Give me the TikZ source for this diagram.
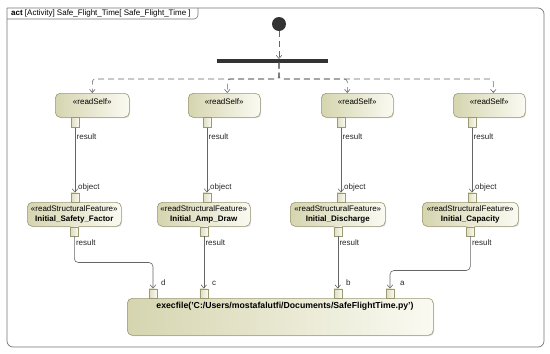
\documentclass[tikz,border=0pt]{standalone}
\usepackage{fontspec}
\setmainfont{Liberation Sans}
\usetikzlibrary{arrows.meta,shadows,calc}
\definecolor{boxdark}{HTML}{D6D5B0}
\definecolor{boxlight}{HTML}{FAFAF2}
\definecolor{boxborder}{HTML}{9A9974}
\definecolor{flowcol}{HTML}{656565}
\definecolor{framecol}{HTML}{757575}
\definecolor{solid}{HTML}{333333}
\begin{document}
\begin{tikzpicture}[x=1pt,y=-1pt, font=\fontsize{8}{9}\selectfont,
  actbox/.style={draw=boxborder, line width=0.6pt, rounded corners=5pt,
    left color=boxdark, right color=boxlight, inner sep=0pt, anchor=north west,
    drop shadow={shadow xshift=0.9pt, shadow yshift=-0.9pt, opacity=0.3}},
  pinbox/.style={draw=boxborder, line width=0.5pt, left color=boxdark!80!white,
    right color=boxlight, inner sep=0pt, minimum width=8, minimum height=9},
  oflow/.style={draw=flowcol, line width=0.6pt, -{Straight Barb[length=3.2pt,width=5.5pt]}},
  cflow/.style={oflow, dash pattern=on 6pt off 4pt},
  txt/.style={inner sep=0pt, text=black},
  bold/.style={txt, font=\fontsize{8}{9}\selectfont\bfseries},
  lbl/.style={inner sep=0pt, anchor=west, text=black!85},
]
\useasboundingbox (0,0) rectangle (550,354);
% frame
\draw[framecol, line width=0.7pt, rounded corners=6pt] (7,8) -- (544,8) -- (544,347) -- (7,347) -- (7,8);
\draw[framecol, line width=0.6pt, rounded corners=4pt] (7,19) -- (198,19) -- (198,8);
\node[txt, anchor=west] (title) at (11,13.8) {\textbf{act} [Activity] Safe\_Flight\_Time[ Safe\_Flight\_Time ]};

% initial and fork
\node[circle, fill=solid, minimum size=14, inner sep=0pt] (init) at (279,24) {};
\node[fill=solid, minimum width=111, minimum height=3.5, inner sep=0pt, anchor=north west] (fork) at (217,59) {};
\coordinate (fj) at (279,62.5);
\draw[cflow] (init.south) -- (init.south |- fork.north);

% readSelf boxes
\node[actbox, minimum width=74, minimum height=24] (rs1) at (55,93) {};
\node[actbox, minimum width=72, minimum height=24] (rs2) at (188,93) {};
\node[actbox, minimum width=72, minimum height=24] (rs3) at (321,93) {};
\node[actbox, minimum width=72, minimum height=24] (rs4) at (453,93) {};
\node[txt] (rs1t) at (rs1.north |- 0,101.5) {«readSelf»};
\node[txt] (rs2t) at (rs2.north |- 0,101.5) {«readSelf»};
\node[txt] (rs3t) at (rs3.north |- 0,101.5) {«readSelf»};
\node[txt] (rs4t) at (rs4.north |- 0,101.5) {«readSelf»};

% control flows from fork
\draw[cflow, rounded corners=3pt] (fj) -- ++(0,16.5) -| (rs1.north);
\draw[cflow, rounded corners=3pt] (fj) -- ++(0,16.5) -| ([xshift=3pt]rs2.north);
\draw[cflow, rounded corners=3pt] (fj) -- ++(0,16.5) -| ([xshift=-10pt]rs3.north);
\draw[cflow, rounded corners=3pt] (fj) -- ++(0,16.5) -| ([xshift=4pt]rs4.north);

% readSelf result pins
\node[pinbox, anchor=north, minimum height=10] (r1) at (75,117) {};
\node[pinbox, anchor=north, minimum height=10] (r2) at (207,117) {};
\node[pinbox, anchor=north, minimum height=10] (r3) at (341,117) {};
\node[pinbox, anchor=north, minimum height=10] (r4) at (472,117) {};

% readStructuralFeature boxes
\node[actbox, minimum width=94, minimum height=24] (sf1) at (27,202) {};
\node[actbox, minimum width=93, minimum height=24] (sf2) at (157,202) {};
\node[actbox, minimum width=95, minimum height=24] (sf3) at (290,202) {};
\node[actbox, minimum width=96, minimum height=24] (sf4) at (422,202) {};
\node[txt] (sf1s) at (sf1.north |- 0,209) {«readStructuralFeature»};
\node[txt] (sf2s) at (sf2.north |- 0,209) {«readStructuralFeature»};
\node[txt] (sf3s) at (sf3.north |- 0,209) {«readStructuralFeature»};
\node[txt] (sf4s) at (sf4.north |- 0,209) {«readStructuralFeature»};
\node[bold] (sf1n) at (sf1.north |- 0,219) {Initial\_Safety\_Factor};
\node[bold] (sf2n) at (sf2.north |- 0,219) {Initial\_Amp\_Draw};
\node[bold] (sf3n) at (sf3.north |- 0,219) {Initial\_Discharge};
\node[bold] (sf4n) at (sf4.north |- 0,219) {Initial\_Capacity};

% object pins
\node[pinbox, anchor=south] (o1) at (75,202) {};
\node[pinbox, anchor=south] (o2) at (207,202) {};
\node[pinbox, anchor=south] (o3) at (341,202) {};
\node[pinbox, anchor=south] (o4) at (472,202) {};
% result pins of readStructuralFeature
\node[pinbox, anchor=north] (q1) at (sf1.south) {};
\node[pinbox, anchor=north] (q2) at (sf2.south) {};
\node[pinbox, anchor=north] (q3) at (sf3.south) {};
\node[pinbox, anchor=north] (q4) at (sf4.south) {};

% object flows readSelf -> readStructuralFeature
\foreach \i in {1,2,3,4}{
  \draw[oflow] (r\i.south) -- (o\i.north);
}
\node[lbl] (lr1) at (76.5,137) {result};
\node[lbl] (lr2) at (208.5,137) {result};
\node[lbl] (lr3) at (342.5,137) {result};
\node[lbl] (lr4) at (473.5,137) {result};
\node[lbl] (lo1) at (78,187) {object};
\node[lbl] (lo2) at (210,187) {object};
\node[lbl] (lo3) at (344,187) {object};
\node[lbl] (lo4) at (475,187) {object};
\node[lbl] (lq1) at ([xshift=1.5pt]q1.south |- 0,243) {result};
\node[lbl] (lq2) at ([xshift=1.5pt]q2.south |- 0,243) {result};
\node[lbl] (lq3) at ([xshift=1.5pt]q3.south |- 0,243) {result};
\node[lbl] (lq4) at ([xshift=1.5pt]q4.south |- 0,243) {result};

% execfile action
\node[actbox, minimum width=306, minimum height=37] (ex) at (127,298) {};
\node[txt, font=\fontsize{8.7}{9}\selectfont\bfseries] (ext) at (285,306.5) {execfile('C:/Users/mostafalutfi/Documents/SafeFlightTime.py')};
\node[pinbox, anchor=south] (pd) at (153,298) {};
\node[pinbox, anchor=south] (pc) at (sf2.south |- ex.north) {};
\node[pinbox, anchor=south] (pb) at (sf3.south |- ex.north) {};
\node[pinbox, anchor=south] (pa) at (390,298) {};
\node[lbl] (ld) at (161,283) {d};
\node[lbl] (lc) at (212,283) {c};
\node[lbl] (lb) at (346,283) {b};
\node[lbl] (la) at (400,283) {a};

\draw[oflow, rounded corners=4pt] (q1.south) |- ([yshift=26pt]pd.north) -- (pd.north);
\draw[oflow] (q2.south) -- (pc.north);
\draw[oflow] (q3.south) -- (pb.north);
\draw[oflow, rounded corners=4pt] (q4.south) |- ([yshift=18pt]pa.north) -- (pa.north);
\end{tikzpicture}
\end{document}
